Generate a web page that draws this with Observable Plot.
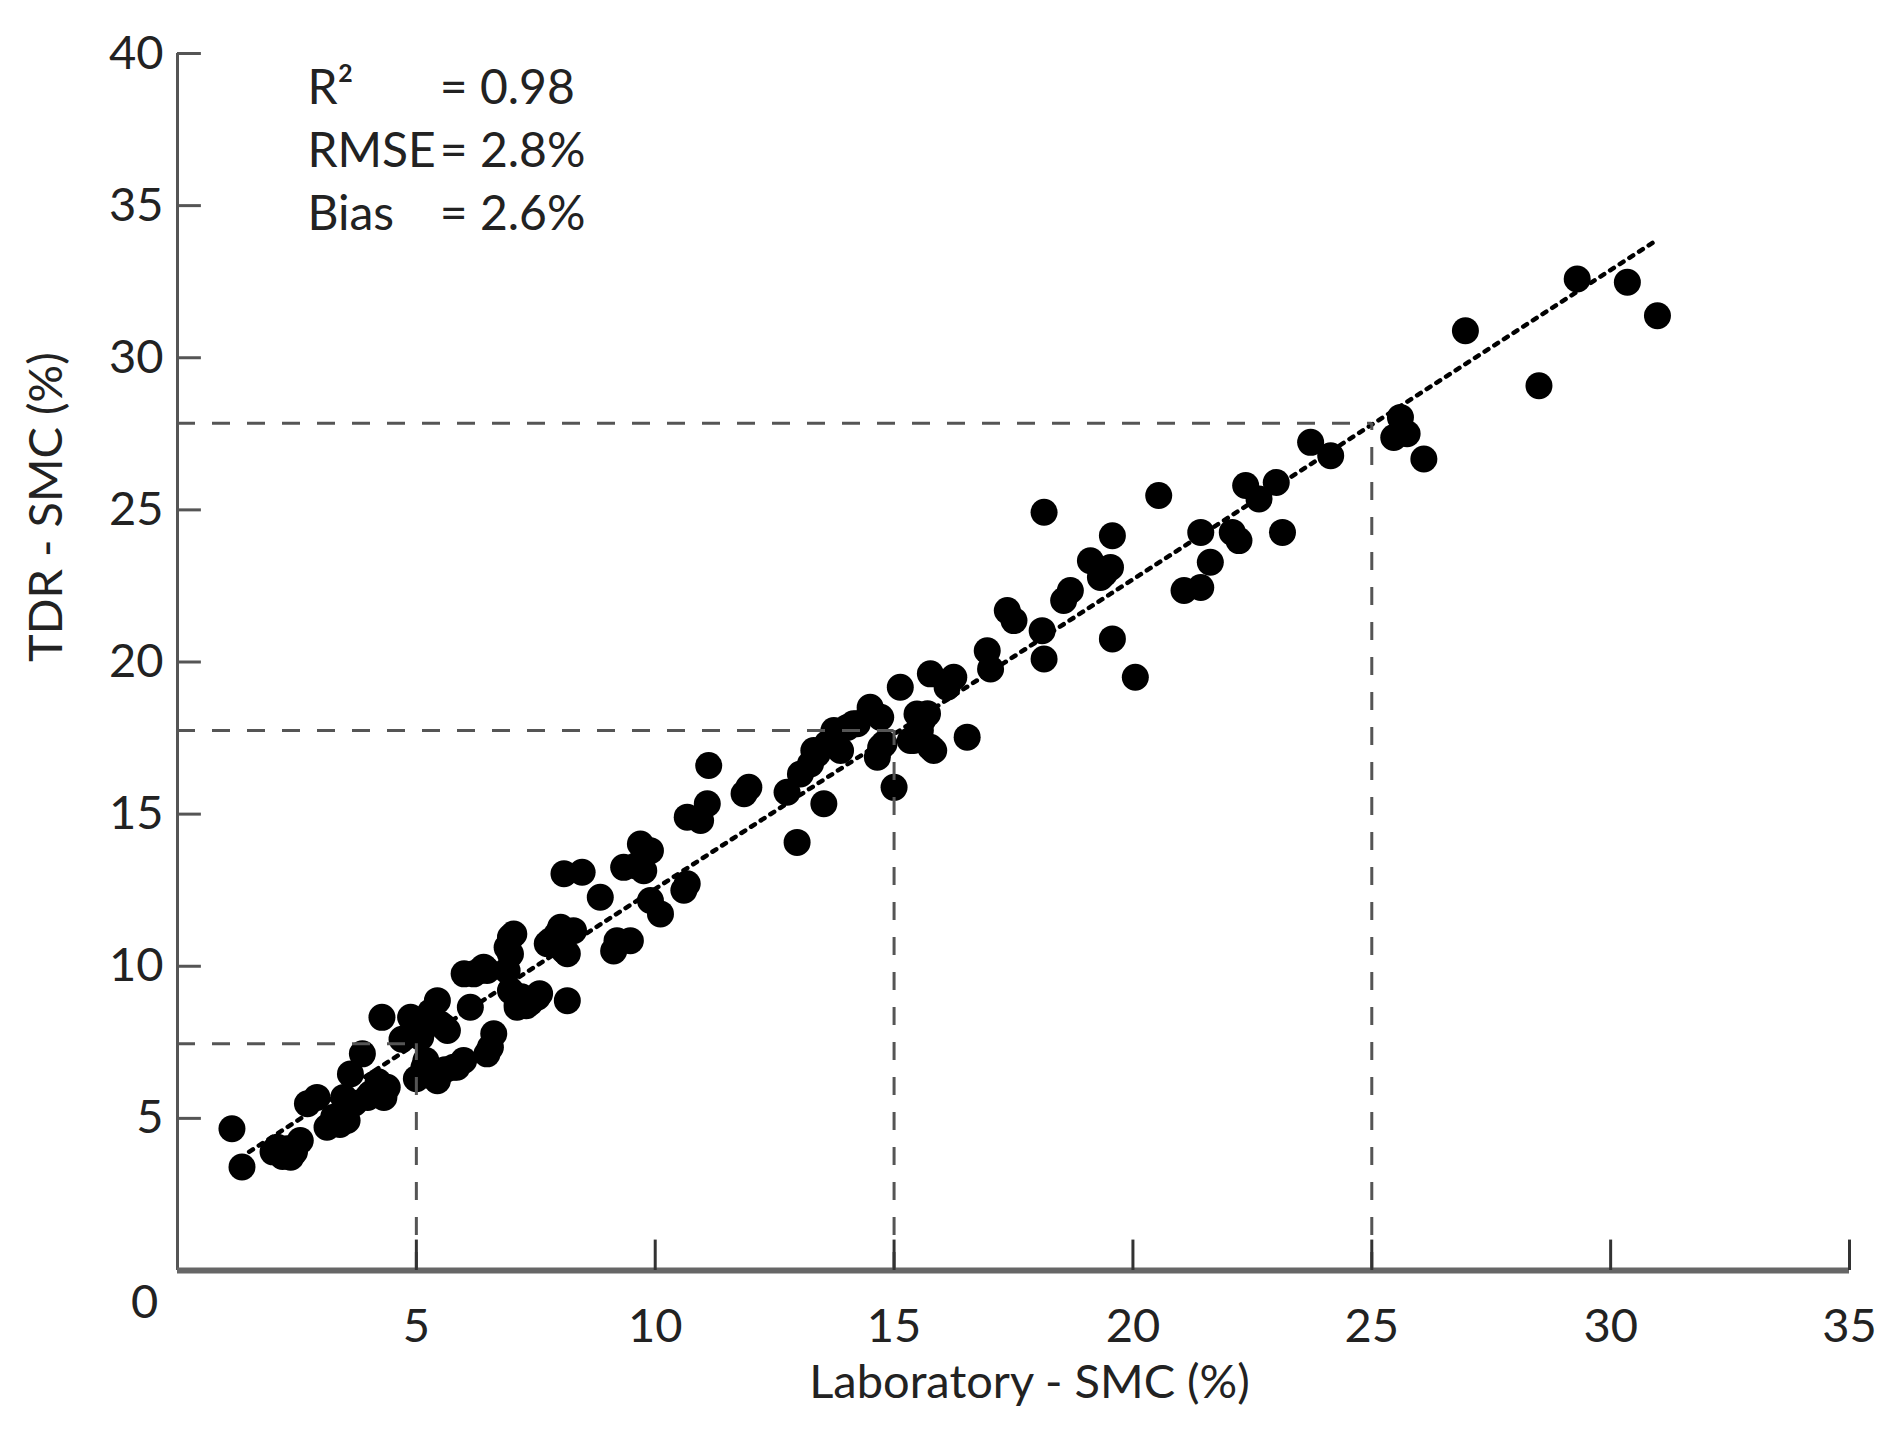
<!DOCTYPE html>
<html><head><meta charset="utf-8">
<script src="https://cdn.jsdelivr.net/npm/d3@7"></script>
<script src="https://cdn.jsdelivr.net/npm/@observablehq/plot@0.6"></script>
<style>body{margin:0;background:#fff}</style>
</head><body><div id="chart"></div>
<script>
// Laboratory SMC (%) vs TDR SMC (%)
const labSMC = [
1.14,1.35,2.0,2.09,2.2,2.37,2.3,2.57,2.45,2.72,2.92,3.13,3.27,3.4,3.55,3.62,3.87,3.7,4.04,4.32,
4.39,4.2,4.28,4.7,4.88,4.95,5.1,5.0,5.2,5.44,5.3,5.65,5.5,5.37,5.6,5.78,5.99,6.13,6.34,6.0,
6.41,6.62,6.55,6.97,7.04,6.97,6.9,6.97,7.11,7.2,7.53,7.3,7.38,7.58,7.81,7.95,8.02,8.29,8.16,8.16,
7.74,8.09,8.47,8.85,9.2,9.48,9.13,9.34,9.6,9.69,9.9,9.76,9.9,10.11,10.67,10.6,10.67,10.95,11.09,11.12,
11.86,11.96,12.76,12.97,13.04,13.39,13.53,13.6,13.74,13.88,14.02,14.23,14.5,14.5,14.72,14.65,14.79,14.72,15.0,15.13,
15.34,15.48,15.55,15.41,15.83,15.76,15.6,15.7,16.25,16.53,16.95,17.02,17.37,17.51,18.1,18.14,18.14,18.55,18.69,19.11,
19.32,19.53,19.57,19.4,19.57,20.05,20.54,21.07,21.42,21.62,21.42,22.08,22.22,22.36,22.64,23.0,23.13,23.72,24.14,25.46,
25.6,25.74,26.09,26.96,28.5,29.3,30.35,30.98,
5.58,5.09,6.2,6.48,6.48,5.85,5.44,5.16,3.98,3.48,7.11,6.9,8.09,
16.11,13.25,13.32,14.15,15.76
];
const tdrSMC = [
4.66,3.40,3.9,4.05,3.75,3.72,4.0,4.27,3.9,5.48,5.69,4.71,5.04,4.8,4.93,6.46,7.12,5.5,5.81,5.69,
6.02,6.2,8.32,7.6,8.32,7.78,8.2,6.3,6.9,8.87,8.5,7.89,8.1,6.35,6.6,6.68,6.9,8.65,9.86,9.75,
9.97,7.78,7.34,10.95,11.06,10.4,9.86,9.2,8.76,9.0,8.98,8.7,8.8,9.1,10.84,11.06,11.28,11.17,10.41,8.87,
10.74,13.04,13.09,12.27,10.84,10.84,10.5,13.25,13.3,14.02,13.8,13.14,12.16,11.72,12.71,12.5,14.9,14.79,15.34,16.6,
15.67,15.88,15.72,14.07,16.32,16.98,15.34,17.31,17.75,17.09,17.85,17.97,18.4,18.51,18.18,16.87,17.31,17.2,15.88,19.17,
17.42,18.29,17.75,17.42,17.09,19.61,18.1,18.3,19.5,17.53,20.37,19.77,21.69,21.36,21.03,20.1,24.92,22.02,22.35,23.33,
22.78,23.11,24.15,22.9,20.76,19.5,25.47,22.35,22.45,23.28,24.26,24.26,23.99,25.8,25.36,25.9,24.26,27.22,26.78,27.38,
28.04,27.5,26.67,30.89,29.08,32.59,32.48,31.38,
8.0,7.67,9.75,9.86,7.12,6.68,6.24,6.68,5.69,5.69,8.65,10.62,10.52,
19.17,16.65,17.09,17.97,17.2
];
const trendX = [1.5, 30.9];
const trendY = [3.9, 33.8];
const guideX = [5, 15, 25];
const guideY = [7.45, 17.75, 27.85];
const xTicks = [5, 10, 15, 20, 25, 30, 35];
const yTicks = [5, 10, 15, 20, 25, 30, 35, 40];
const statLabels = ["R²", "RMSE", "Bias"];
const statValues = ["= 0.98", "= 2.8%", "= 2.6%"];
const statRowY = [38.85, 36.79, 34.69];

const points = labSMC.map((x, i) => ({x, y: tdrSMC[i]}));
const trend = trendX.map((x, i) => ({x, y: trendY[i]}));
const guides = guideX.map((gx, i) => ({gx, gy: guideY[i]}));
const stats = statLabels.map((label, i) => ({label, value: statValues[i], y: statRowY[i]}));

const FONT = "Lato, 'Open Sans', sans-serif";
const ink = "#222";

const chart = Plot.plot({
  width: 1888,
  height: 1433,
  marginTop: 53,
  marginBottom: 163,
  marginLeft: 177,
  marginRight: 39,
  x: {domain: [0, 35]},
  y: {domain: [0, 40]},
  style: {fontFamily: FONT, fontSize: "47px", color: ink, background: "#fff"},
  marks: [
    Plot.dot(points, {x: "x", y: "y", r: 13.5, fill: "#000", stroke: "none"}),
    Plot.line(trend, {x: "x", y: "y", stroke: "#000", strokeWidth: 4.5, strokeDasharray: "4.5,7"}),
    Plot.ruleY(guides, {y: "gy", x1: 0, x2: "gx", stroke: "#555", strokeWidth: 3, strokeDasharray: "18,17"}),
    Plot.ruleX(guides, {x: "gx", y1: 0, y2: "gy", stroke: "#555", strokeWidth: 3, strokeDasharray: "18,17"}),
    // axis lines
    Plot.ruleX([0], {y1: 0, y2: 40, stroke: "#555", strokeWidth: 3}),
    Plot.ruleY([0], {x1: 0, x2: 35, stroke: "#666", strokeWidth: 6}),
    // inward ticks
    Plot.ruleX(xTicks, {y1: 0, y2: 1, stroke: "#333", strokeWidth: 3}),
    Plot.ruleY(yTicks, {x1: 0, x2: 0.5, stroke: "#555", strokeWidth: 3}),
    Plot.axisX({ticks: xTicks, tickSize: 0, tickPadding: 38, fontSize: 47, label: null, tickFormat: d => String(d), fill: ink}),
    Plot.axisY({ticks: yTicks, tickSize: 0, tickPadding: 14, fontSize: 47, label: null, tickFormat: d => String(d), fill: ink}),
    Plot.text([0], {x: 0, y: 0, text: d => String(d), dx: -33, dy: 32, fontSize: 47, fill: ink, textAnchor: "middle", lineAnchor: "middle"}),
    // axis titles
    Plot.text(["Laboratory - SMC (%)"], {frameAnchor: "bottom", dx: 16, dy: 112, fontSize: 47, fill: ink, lineAnchor: "middle"}),
    Plot.text(["TDR - SMC (%)"], {frameAnchor: "left", dx: -131, rotate: -90, fontSize: 47, fill: ink, lineAnchor: "middle"}),
    // statistics
    Plot.text(stats, {x: 2.72, y: "y", text: "label", textAnchor: "start", fontSize: 48, fill: ink, lineAnchor: "middle"}),
    Plot.text(stats, {x: 5.49, y: "y", text: "value", textAnchor: "start", fontSize: 48, fill: ink, lineAnchor: "middle"})
  ]
});
document.getElementById("chart").appendChild(chart);
</script>
</body></html>
